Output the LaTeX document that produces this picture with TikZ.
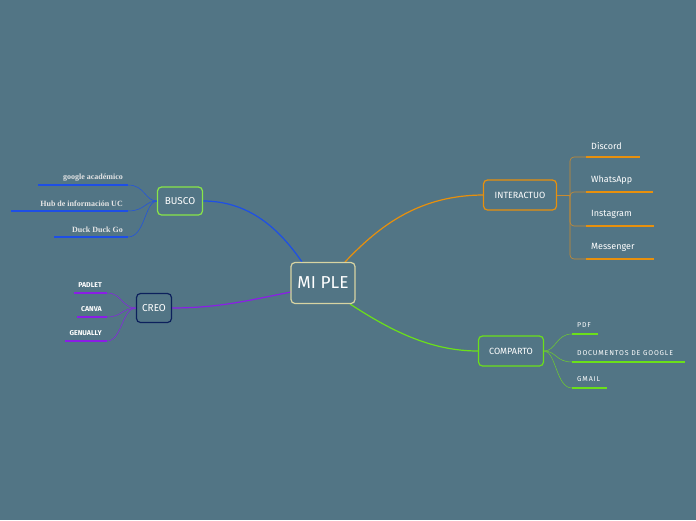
\documentclass[tikz,border=0pt]{standalone}
\usepackage{fontspec}
\setmainfont{Liberation Serif}
\newfontfamily\hand{Fira Sans}
\newfontfamily\handsp[LetterSpace=12]{Fira Sans}
\begin{document}
\begin{tikzpicture}[x=1pt,y=-1pt]
\definecolor{bg}{HTML}{527585}
\definecolor{cblue}{HTML}{1E4FE6}
\definecolor{cpur}{HTML}{8A1EE6}
\definecolor{corg}{HTML}{E8900C}
\definecolor{cgrn}{HTML}{6BE01A}
\fill[bg] (0,0) rectangle (696,520);
\useasboundingbox (0,0) rectangle (696,520);
\tikzset{box/.style={draw,line width=1.2pt,rounded corners=4pt,fill=bg,text=white,font=\hand\normalsize,inner sep=0pt},
lab/.style={text=white,font=\hand\scriptsize,inner sep=1pt,anchor=south},
lbl/.style={text=white!90!black,font=\footnotesize\bfseries,inner sep=1pt,anchor=south}}
% main branches
\draw[cblue,line width=1.2pt] (302,262) .. controls (280,230) and (250,201) .. (203,201);
\draw[cpur,line width=1.2pt] (291,292) .. controls (250,300) and (220,308) .. (171,308);
\draw[corg,line width=1.2pt] (345,262) .. controls (380,225) and (420,195) .. (484,195);
\draw[cgrn,line width=1.2pt] (350,304) .. controls (390,330) and (430,351) .. (478,351);
\node[box,draw=cgrn!80!white,minimum width=45pt,minimum height=28pt] (busco) at (180,201) {BUSCO};
\node[box,draw=cblue!40!black,minimum width=35pt,minimum height=29pt] (creo) at (154,308) {CREO};
\node[box,draw=corg,minimum width=73pt,minimum height=30pt,font=\hand\small] (inter) at (520,195) {INTERACTUO};
\node[box,draw=cgrn,minimum width=65pt,minimum height=30pt,font=\hand\small] (comp) at (511,351) {COMPARTO};
\node[box,draw=yellow!40!gray!60!white,minimum width=64pt,minimum height=41pt,font=\hand\LARGE] (mi) at (323,283) {MI PLE};
% BUSCO leaves
\foreach \y/\a/\t/\n in {185/38/google académico/b1,211/11/Hub de información UC/b2,237/54/Duck Duck Go/b3}{
 \coordinate (\n) at (128,\y);
 \draw[cblue,line width=0.5pt] (busco.west) .. controls (145,201) and (145,\y) .. (\n);
 \draw[cblue,line width=1.5pt] (\a,\y) -- (\n);
 \node[lbl,anchor=south east] at (124,\y-3) {\t};
}
% CREO leaves
\foreach \y/\a/\t/\n in {293/74/PADLET/c1,317/77/CANVA/c2,341/65/GENUALLY/c3}{
 \coordinate (\n) at (107,\y);
 \draw[cpur,line width=0.5pt] (creo.west) .. controls (122,308) and (122,\y) .. (\n);
 \draw[cpur,line width=1.5pt] (\a,\y) -- (\n);
 \node[lab,font=\hand\scriptsize\bfseries,anchor=south east] at (103,\y-4) {\t};
}
% INTERACTUO leaves
\coordinate (ib) at (570,195);
\draw[corg!70!gray,line width=0.6pt] (inter.east) -- (ib);
\foreach \y/\b/\t/\n in {157/640/Discord/i1,192/653/WhatsApp/i2,226/654/Instagram/i3,259/654/Messenger/i4}{
 \coordinate (\n) at (586,\y);
 \draw[corg!70!gray,line width=0.6pt,rounded corners=4pt] (ib) -- (570,\y) -- (\n);
 \draw[corg,line width=1.5pt] (\n) -- (\b,\y);
 \node[lab,anchor=south west,font=\hand\small] at (590,\y-6) {\t};
}
% COMPARTO leaves
\foreach \y/\b/\t/\n in {334/598/PDF/p1,362/685/DOCUMENTOS DE GOOGLE/p2,388/607/GMAIL/p3}{
 \coordinate (\n) at (572,\y);
 \draw[cgrn!80!gray,line width=0.5pt] (comp.east) .. controls (556,351) and (556,\y) .. (\n);
 \draw[cgrn,line width=1.5pt] (\n) -- (\b,\y);
 \node[lab,anchor=south west,font=\handsp\scriptsize] at (576,\y-5) {\t};
}
\end{tikzpicture}
\end{document}
